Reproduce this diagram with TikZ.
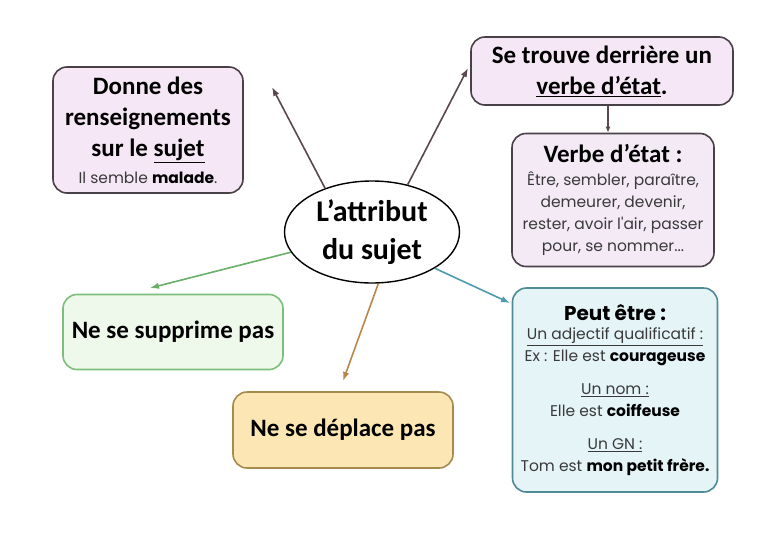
\documentclass[tikz,border=0pt]{standalone}
\usepackage{fontspec}
\setmainfont{Carlito}
\newfontfamily\gothic{Poppins}
\usetikzlibrary{shapes.geometric,arrows.meta}
\definecolor{bordrose}{HTML}{4A4048}
\definecolor{fondrose}{HTML}{F6E7F6}
\definecolor{fondmauve}{HTML}{F3EAF6}
\definecolor{bordvert}{HTML}{7DBE7D}
\definecolor{fondvert}{HTML}{EEF9EC}
\definecolor{bordjaune}{HTML}{A68B4E}
\definecolor{fondjaune}{HTML}{FCE7B4}
\definecolor{bordbleu}{HTML}{4E8B96}
\definecolor{fondbleu}{HTML}{E4F4F7}
\definecolor{flsombre}{HTML}{5A4750}
\definecolor{flvert}{HTML}{6BAF6B}
\definecolor{flbrun}{HTML}{B8874A}
\definecolor{flbleu}{HTML}{4E9AB0}
\definecolor{texte}{HTML}{3A3A3A}
\newcommand\petit{\gothic\mdseries\fontsize{15.5}{22}\selectfont\color{texte}}
\newcommand\gras[1]{{\color{black}\textbf{#1}}}
\tikzset{
	boite/.style={draw, rounded corners=14pt, line width=1.6pt, align=center,
		inner sep=3pt, font=\bfseries\fontsize{25}{31}\selectfont},
	fleche/.style={line width=1.6pt, -{Latex[length=9pt,width=6.5pt]}},
}

\begin{document}
\begin{tikzpicture}[x=1pt,y=-1pt]
\useasboundingbox[fill=white] (0,0) rectangle (768,541);
% le centre
\node[ellipse, draw, line width=1.4pt, fill=white, minimum width=175pt, minimum height=102pt,
	align=center, font=\bfseries\fontsize{30}{38}\selectfont] (attr) at (372,232) {L’attribut\\du sujet};
% les boites
\node[boite, draw=bordrose, fill=fondrose, minimum width=190pt, minimum height=126pt] (sujet) at (148,130)
	{Donne des\\renseignements\\sur le \underline{sujet}\\[-4pt]{\petit Il semble \gras{malade}.}};
\node[boite, draw=bordrose, fill=fondrose, minimum width=262pt, minimum height=68pt] (derr) at (602,71)
	{Se trouve derrière un\\\underline{verbe d’état}.};
\node[boite, draw=bordrose, fill=fondmauve, minimum width=202pt, minimum height=133pt, font=\petit] (verbe) at (613,200)
	{{\color{black}\rmfamily\bfseries\fontsize{25}{31}\selectfont Verbe d’état :}\\[1pt]
	Être, sembler, paraître,\\demeurer, devenir,\\rester, avoir l'air, passer\\pour, se nommer...};
\node[boite, draw=bordvert, fill=fondvert, minimum width=220pt, minimum height=75pt] (suppr) at (173,332)
	{Ne se supprime pas};
\node[boite, draw=bordjaune, fill=fondjaune, minimum width=220pt, minimum height=76pt] (depl) at (343,430)
	{Ne se déplace pas};
\node[boite, draw=bordbleu, fill=fondbleu, minimum width=205pt, minimum height=204pt, font=\petit] (peut) at (615,390)
	{{\color{black}\bfseries\fontsize{20}{24}\selectfont Peut être :}\\[-3pt]
	\underline{Un adjectif qualificatif :}\\
	Ex : Elle est \gras{courageuse}\\[11pt]
	\underline{Un nom :}\\
	Elle est \gras{coiffeuse}\\[11pt]
	\underline{Un GN :}\\
	Tom est \gras{mon petit frère.}};
% les fleches
\coordinate (bout1) at (272,87);
\coordinate (bout2) at (468,68);
\coordinate (bout3) at (150,288);
\coordinate (bout4) at (343,381);
\coordinate (bout5) at (510,303);
\draw[fleche, flsombre] (attr.137) -- (bout1);
\draw[fleche, flsombre] (attr.53) -- (bout2);
\draw[fleche, flvert] (attr.194) -- (bout3);
\draw[fleche, flbrun] (attr.277) -- (bout4);
\draw[fleche, flbleu] (attr.-30) -- (bout5);
\draw[line width=1.2pt, flsombre, -{Latex[length=6pt,width=5pt]}] (derr.south -| 608,0) -- (verbe.north -| 608,0);
\end{tikzpicture}
\end{document}
